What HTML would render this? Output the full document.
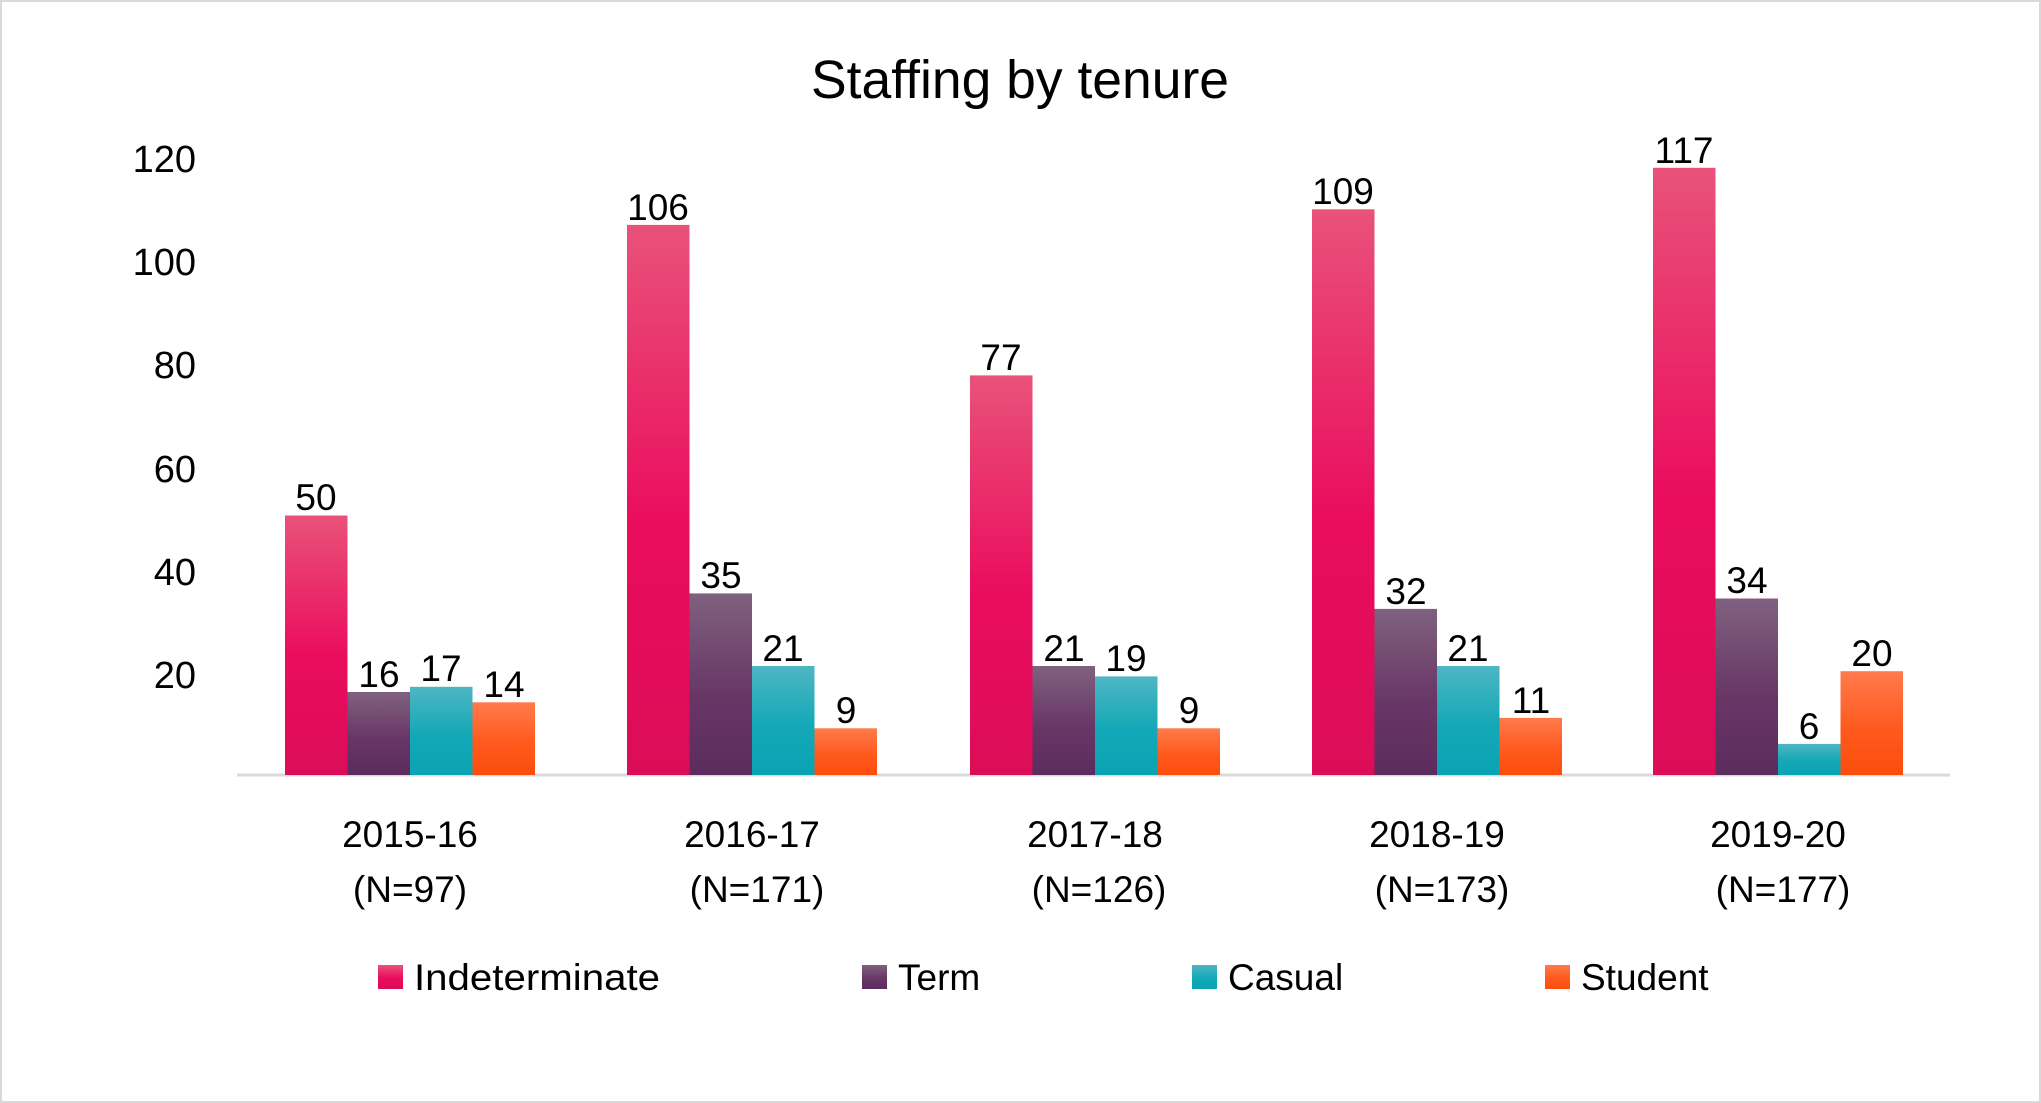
<!DOCTYPE html>
<html><head><meta charset="utf-8"><style>
html,body{margin:0;padding:0;background:#fff;}
svg{display:block;font-family:"Liberation Sans",sans-serif;}
</style></head><body>
<svg width="2041" height="1103" viewBox="0 0 2041 1103" xmlns="http://www.w3.org/2000/svg">
<defs>
<linearGradient id="gI" x1="0" y1="0" x2="0" y2="1"><stop offset="0" stop-color="#e9527a"/><stop offset="0.55" stop-color="#ea0c5d"/><stop offset="1" stop-color="#dc0d58"/></linearGradient>
<linearGradient id="gT" x1="0" y1="0" x2="0" y2="1"><stop offset="0" stop-color="#80617f"/><stop offset="0.55" stop-color="#683766"/><stop offset="1" stop-color="#5c2c5f"/></linearGradient>
<linearGradient id="gC" x1="0" y1="0" x2="0" y2="1"><stop offset="0" stop-color="#4fb6c3"/><stop offset="0.55" stop-color="#13a8b7"/><stop offset="1" stop-color="#0aa3b3"/></linearGradient>
<linearGradient id="gS" x1="0" y1="0" x2="0" y2="1"><stop offset="0" stop-color="#ff7b4c"/><stop offset="0.55" stop-color="#ff5a1e"/><stop offset="1" stop-color="#fb4d0d"/></linearGradient>
</defs>
<rect x="1" y="1" width="2039" height="1101" fill="#fff" stroke="#d9d9d9" stroke-width="2"/>
<text x="1020" y="98" font-size="54" text-anchor="middle" textLength="418" lengthAdjust="spacingAndGlyphs" fill="#000">Staffing by tenure</text>
<g font-size="38" fill="#000" text-anchor="end">
<text x="196" y="172">120</text>
<text x="196" y="275">100</text>
<text x="196" y="378">80</text>
<text x="196" y="482">60</text>
<text x="196" y="585">40</text>
<text x="196" y="688">20</text>
</g>
<line x1="237" y1="775" x2="1950" y2="775" stroke="#d9d9d9" stroke-width="3"/>
<g id="bars">
<rect x="285" y="515.5" width="62.5" height="259.5" fill="url(#gI)"/>
<rect x="347.5" y="692" width="62.5" height="83" fill="url(#gT)"/>
<rect x="410" y="686.8" width="62.5" height="88.2" fill="url(#gC)"/>
<rect x="472.5" y="702.3" width="62.5" height="72.7" fill="url(#gS)"/>

<rect x="627" y="224.9" width="62.5" height="550.1" fill="url(#gI)"/>
<rect x="689.5" y="593.4" width="62.5" height="181.6" fill="url(#gT)"/>
<rect x="752" y="666" width="62.5" height="109" fill="url(#gC)"/>
<rect x="814.5" y="728.3" width="62.5" height="46.7" fill="url(#gS)"/>

<rect x="970" y="375.4" width="62.5" height="399.6" fill="url(#gI)"/>
<rect x="1032.5" y="666" width="62.5" height="109" fill="url(#gT)"/>
<rect x="1095" y="676.4" width="62.5" height="98.6" fill="url(#gC)"/>
<rect x="1157.5" y="728.3" width="62.5" height="46.7" fill="url(#gS)"/>

<rect x="1312" y="209.3" width="62.5" height="565.7" fill="url(#gI)"/>
<rect x="1374.5" y="608.9" width="62.5" height="166.1" fill="url(#gT)"/>
<rect x="1437" y="666" width="62.5" height="109" fill="url(#gC)"/>
<rect x="1499.5" y="717.9" width="62.5" height="57.1" fill="url(#gS)"/>

<rect x="1653" y="167.8" width="62.5" height="607.2" fill="url(#gI)"/>
<rect x="1715.5" y="598.5" width="62.5" height="176.5" fill="url(#gT)"/>
<rect x="1778" y="743.9" width="62.5" height="31.1" fill="url(#gC)"/>
<rect x="1840.5" y="671.2" width="62.5" height="103.8" fill="url(#gS)"/>
</g>
<g font-size="37" fill="#000" text-anchor="middle">
<text x="316" y="510">50</text>
<text x="379" y="687">16</text>
<text x="441" y="681">17</text>
<text x="504" y="697">14</text>
<text x="658" y="220">106</text>
<text x="721" y="588">35</text>
<text x="783" y="661">21</text>
<text x="846" y="723">9</text>
<text x="1001" y="370">77</text>
<text x="1064" y="661">21</text>
<text x="1126" y="671">19</text>
<text x="1189" y="723">9</text>
<text x="1343" y="204">109</text>
<text x="1406" y="604">32</text>
<text x="1468" y="661">21</text>
<text x="1531" y="713">11</text>
<text x="1684" y="163">117</text>
<text x="1747" y="593">34</text>
<text x="1809" y="739">6</text>
<text x="1872" y="666">20</text>
</g>
<g font-size="37" fill="#000" text-anchor="middle">
<text x="410" y="847">2015-16</text><text x="410" y="902">(N=97)</text>
<text x="752" y="847">2016-17</text><text x="757" y="902">(N=171)</text>
<text x="1095" y="847">2017-18</text><text x="1099" y="902">(N=126)</text>
<text x="1437" y="847">2018-19</text><text x="1442" y="902">(N=173)</text>
<text x="1778" y="847">2019-20</text><text x="1783" y="902">(N=177)</text>
</g>
<g font-size="37" fill="#000">
<rect x="378" y="965" width="25" height="24" fill="url(#gI)"/>
<text x="414" y="990" textLength="246" lengthAdjust="spacingAndGlyphs">Indeterminate</text>
<rect x="862" y="965" width="25" height="24" fill="url(#gT)"/>
<text x="898" y="990">Term</text>
<rect x="1192" y="965" width="25" height="24" fill="url(#gC)"/>
<text x="1228" y="990">Casual</text>
<rect x="1545" y="965" width="25" height="24" fill="url(#gS)"/>
<text x="1581" y="990">Student</text>
</g>
</svg>
</body></html>
